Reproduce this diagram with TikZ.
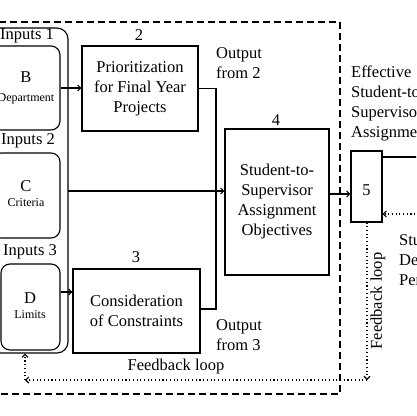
\documentclass[tikz,border=0pt]{standalone}
\usepackage{fontspec}
\setmainfont{Liberation Serif}
\usetikzlibrary{arrows.meta}
\tikzset{
  box/.style={draw, line width=1.1pt, inner sep=0pt, align=center, font=\fontsize{16.5}{20}\selectfont},
  rbox/.style={box, rounded corners=9pt},
  txt/.style={inner sep=0pt, font=\fontsize{16.5}{20}\selectfont},
  small/.style={inner sep=0pt, font=\fontsize{12}{14}\selectfont},
  link/.style={line width=1.1pt},
  arr/.style={link, -{Straight Barb[length=3pt,width=6pt]}},
  dots/.style={line width=1.1pt, dash pattern=on 1.1pt off 2.6pt, -{Straight Barb[length=3pt,width=6pt]}},
  frame/.style={line width=1.1pt, dash pattern=on 7pt off 4pt}
}
\begin{document}
\begin{tikzpicture}[x=1pt,y=-1pt]
\useasboundingbox (0,0) rectangle (416,416);
\clip (0,0) rectangle (416,416);
% dashed frame
\node[frame, draw, minimum width=350pt, minimum height=372pt, inner sep=0pt] (fr) at (165,208) {};
% inputs group
\node[rbox, minimum width=80pt, minimum height=325pt, rounded corners=11pt] (grp) at (28,190.5) {};
\node[rbox, minimum width=68pt, minimum height=84pt] (B) at (26,88) {};
\node[rbox, minimum width=68pt, minimum height=85pt] (C) at (26,195.5) {};
\node[rbox, minimum width=59pt, minimum height=86pt] (D) at (30.5,307) {};
\node[txt] at (26,77) {B};
\node[small] at (26,99) {Department};
\node[txt] at (26,186) {C};
\node[small] at (26,203) {Criteria};
\node[txt] at (30,298) {D};
\node[small] at (30,315) {Limits};
\node[txt] (i1) at (27,36) {Inputs 1};
\node[txt] (i2) at (28,141) {Inputs 2};
\node[txt] (i3) at (30,252) {Inputs 3};
% process boxes
\node[box, minimum width=116pt, minimum height=85pt] (b2) at (140,88.5) {Prioritization\\for Final Year\\Projects};
\node[box, minimum width=127pt, minimum height=84pt] (b3) at (136.5,311) {Consideration\\of Constraints};
\node[box, minimum width=104pt, minimum height=146pt] (b4) at (277,202) {Student-to-\\Supervisor\\Assignment\\Objectives};
\node[box, minimum width=31pt, minimum height=71pt] (b5) at (366.5,186.5) {};
\node[txt] at (366.5,190) {5};
\node[txt] (l2) at (139,35) {2};
\node[txt] (l3) at (136,257) {3};
\node[txt] (l4) at (276,120) {4};
\node[txt, anchor=west, align=left] (o2) at (216,63) {Output\\from 2};
\node[txt, anchor=west, align=left] (o3) at (216,335) {Output\\from 3};
\node[txt, anchor=west, align=left] (eff) at (351,103) {Effective\\Student-to-\\Supervisor\\Assignment};
\node[txt, anchor=west, align=left] (stu) at (399,260) {Student\\Department\\Performance};
\node[txt, rotate=90] (fb1) at (378,301) {Feedback loop};
\node[txt] (fb2) at (176,367) {Feedback loop};
% connectors
\coordinate (jt) at (216,88.5);
\coordinate (jb) at (216,309);
\coordinate (cst) at (68,191);
\coordinate (fr1) at (367,380);
\coordinate (fl1) at (25,380);
\coordinate (outr) at (430,157);
\coordinate (inr) at (430,214);
\draw[arr] (B.east) -- (b2.west |- B.east);
\draw[arr] (cst) -- (b4.west |- cst);
\draw[arr] (D.east |- 0,292) -- (b3.west |- 0,292);
\draw[link] (b2.east) -- (jt) -- (jb) -- (b3.east |- jb);
\draw[arr] (b4.east |- 0,194) -- (b5.west |- 0,194);
\draw[link] (b5.east |- outr) -- (outr);
\draw[dots] (inr) -- (b5.east |- inr);
\draw[dots] (b5.south -| fr1) -- (fr1);
\draw[dots] (fr1) -- (fl1);
\draw[dots] (fl1) -- (grp.south -| fl1);
\end{tikzpicture}
\end{document}
